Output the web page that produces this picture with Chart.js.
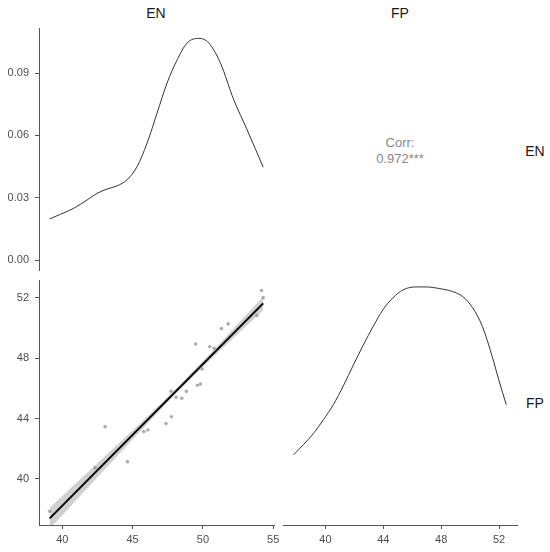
<!DOCTYPE html>
<html>
<head>
<meta charset="utf-8">
<script src="https://cdn.jsdelivr.net/npm/chart.js@4.4.0/dist/chart.umd.min.js"></script>
<style>
  body { margin: 0; background: #fff; font-family: "Liberation Sans", Arial, sans-serif; }
  #quadro { position: relative; width: 550px; height: 552px; overflow: hidden; }
  canvas { position: absolute; }
  .rotulo { position: absolute; font-size: 14px; color: #1a1a1a; transform: translate(-50%, -50%); white-space: nowrap; }
  #corr { position: absolute; left: 400px; top: 151px; transform: translate(-50%, -50%); text-align: center;
          font-size: 13px; line-height: 16px; color: #888; white-space: nowrap; }
</style>
</head>
<body>
<div id="quadro">
  <div class="rotulo" style="left:156px; top:13px;">EN</div>
  <div class="rotulo" style="left:400px; top:13px;">FP</div>
  <div class="rotulo" style="left:535px; top:151px;">EN</div>
  <div class="rotulo" style="left:535px; top:403px;">FP</div>
  <div id="corr">Corr:<br>0.972***</div>

  <canvas id="dens_en" width="284" height="251" style="left:0px; top:20px;"></canvas>
  <canvas id="disp_en_fp" width="284" height="278" style="left:0px; top:274px;"></canvas>
  <canvas id="dens_fp" width="251" height="278" style="left:276px; top:274px;"></canvas>
</div>

<script>
// densidade de EN (painel de cima)
var enX = [39.10, 39.86, 40.81, 41.76, 42.47, 43.18, 43.89, 44.60, 45.32, 46.03,
           46.74, 47.45, 48.17, 48.88, 49.71, 50.42, 51.25, 52.20, 53.15, 54.29];
var enDensidade = [0.0198, 0.0220, 0.0249, 0.0289, 0.0321, 0.0342, 0.0357, 0.0386, 0.0450, 0.0563,
                   0.0707, 0.0852, 0.0964, 0.1045, 0.1067, 0.1045, 0.0948, 0.0771, 0.0627, 0.0447];

// densidade de FP (painel de baixo, direita)
var fpX = [37.80, 38.49, 39.18, 39.86, 40.55, 41.24, 41.92, 42.61, 43.30, 43.98, 44.67,
           45.36, 46.27, 46.96, 47.88, 48.79, 49.48, 50.17, 50.85, 51.54, 52.00, 52.50];
var fpDensidade = [0.0178, 0.0209, 0.0243, 0.0284, 0.0330, 0.0387, 0.0449, 0.0510, 0.0567, 0.0618, 0.0654,
                   0.0678, 0.0687, 0.0687, 0.0682, 0.0673, 0.0658, 0.0624, 0.0567, 0.0474, 0.0402, 0.0330];

// dispersao EN x FP
var enValores = [39.10, 42.33, 43.04, 44.63, 45.79, 46.08, 47.38, 47.76, 47.74, 48.09, 48.50, 48.83,
                 49.49, 49.61, 49.83, 49.95, 50.49, 50.80, 51.32, 51.80, 53.84, 54.17, 54.29];
var fpValores = [37.86, 40.75, 43.47, 41.15, 43.14, 43.25, 43.67, 44.13, 45.81, 45.41, 45.35, 45.81,
                 48.95, 46.21, 46.30, 47.29, 48.77, 48.66, 49.97, 50.28, 50.83, 52.49, 52.02];

// reta ajustada e faixa de confianca
var ajusteX = [39.10, 54.29];
var ajusteY = [37.39, 51.64];
var faixaX = [39.10, 42.00, 45.00, 48.00, 51.00, 54.29];
var faixaBaixo = [36.69, 39.61, 42.62, 45.58, 48.31, 51.19];
var faixaAlto = [38.09, 40.61, 43.22, 45.90, 48.79, 52.09];

// marcas dos eixos
var marcasDensEN = [0, 0.03, 0.06, 0.09];
var marcasEN = [40, 45, 50, 55];
var marcasFP = [40, 44, 48, 52];
var marcasFPdiag = [40, 44, 48, 52];

var limiteEN = [38.34, 55.06];
var limiteFP = [36.95, 53.19];
var limiteFPdiag = [37.07, 53.24];
var limiteDensEN = [-0.0048, 0.1117];
var limiteDensFP = [-0.0035, 0.0708];

Chart.defaults.font.family = "'Liberation Sans', Arial, sans-serif";
Chart.defaults.color = "#4d4d4d";

function pontos(xs, ys) {
  var saida = [];
  for (var i = 0; i < xs.length; i++) {
    saida.push({ x: xs[i], y: ys[i] });
  }
  return saida;
}

function eixo(limite, marcas, casas, largura, altura) {
  return {
    type: "linear",
    min: limite[0],
    max: limite[1],
    border: { display: true, color: "#555", width: 1 },
    grid: { drawOnChartArea: false, drawTicks: true, tickLength: 4, color: "#555" },
    ticks: {
      padding: altura ? 4 : 6,
      font: { size: 11 },
      color: "#4d4d4d",
      callback: function (v) { return Number(v).toFixed(casas); },
    },
    afterBuildTicks: function (s) {
      s.ticks = marcas.map(function (v) { return { value: v }; });
    },
    afterFit: function (s) {
      if (largura) s.width = largura;
      if (altura) s.height = altura;
      // sem folga extra pros rotulos, quem manda e o padding do layout
      s.paddingTop = 0;
      s.paddingBottom = 0;
      s.paddingLeft = 0;
      s.paddingRight = 0;
    },
  };
}

function escondido(limite) {
  return { type: "linear", display: false, min: limite[0], max: limite[1] };
}

var semExtras = { legend: { display: false }, tooltip: { enabled: false } };

var dados_dens_en = {
  type: "line",
  data: {
    datasets: [
      {
        data: pontos(enX, enDensidade),
        borderColor: "#333",
        borderWidth: 1,
        pointRadius: 0,
        cubicInterpolationMode: "monotone",
        fill: false,
      },
    ],
  },
  options: {
    responsive: false,
    animation: false,
    layout: { padding: { top: 8, right: 10, bottom: 1, left: 0 } },
    plugins: semExtras,
    scales: {
      x: escondido(limiteEN),
      y: eixo(limiteDensEN, marcasDensEN, 2, 39, 0),
    },
  },
};

var dados_disp = {
  type: "scatter",
  data: {
    datasets: [
      {
        type: "scatter",
        data: pontos(enValores, fpValores),
        backgroundColor: "rgba(120,120,120,0.6)",
        borderWidth: 0,
        pointRadius: 1.8,
        order: 3,
      },
      {
        type: "line",
        data: pontos(faixaX, faixaBaixo),
        borderColor: "rgba(0,0,0,0)",
        borderWidth: 0,
        pointRadius: 0,
        fill: false,
        order: 2,
      },
      {
        type: "line",
        data: pontos(faixaX, faixaAlto),
        borderColor: "rgba(0,0,0,0)",
        borderWidth: 0,
        pointRadius: 0,
        backgroundColor: "rgba(150,150,150,0.45)",
        fill: "-1",
        order: 2,
      },
      {
        type: "line",
        data: pontos(ajusteX, ajusteY),
        borderColor: "#000",
        borderWidth: 2,
        pointRadius: 0,
        fill: false,
        order: 1,
      },
    ],
  },
  options: {
    responsive: false,
    animation: false,
    layout: { padding: { top: 6, right: 10, bottom: 0, left: 0 } },
    plugins: semExtras,
    scales: {
      x: eixo(limiteEN, marcasEN, 0, 0, 27),
      y: eixo(limiteFP, marcasFP, 0, 39, 0),
    },
  },
};

var dados_dens_fp = {
  type: "line",
  data: {
    datasets: [
      {
        data: pontos(fpX, fpDensidade),
        borderColor: "#333",
        borderWidth: 1,
        pointRadius: 0,
        cubicInterpolationMode: "monotone",
        fill: false,
      },
    ],
  },
  options: {
    responsive: false,
    animation: false,
    layout: { padding: { top: 6, right: 10, bottom: 0, left: 7 } },
    plugins: semExtras,
    scales: {
      x: eixo(limiteFPdiag, marcasFPdiag, 0, 0, 27),
      y: escondido(limiteDensFP),
    },
  },
};

var grafico_dens_en = new Chart(document.getElementById("dens_en"), dados_dens_en);
var grafico_disp = new Chart(document.getElementById("disp_en_fp"), dados_disp);
var grafico_dens_fp = new Chart(document.getElementById("dens_fp"), dados_dens_fp);
</script>
</body>
</html>
